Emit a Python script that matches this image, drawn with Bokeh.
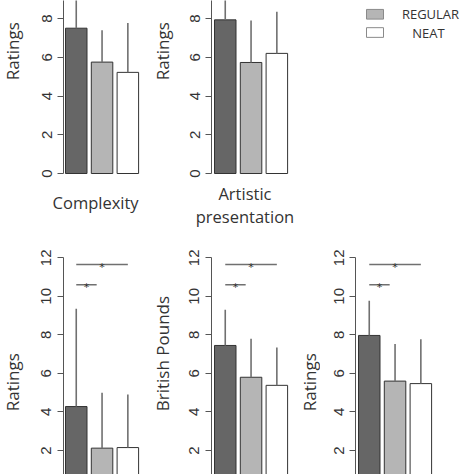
import math
from bokeh.plotting import figure
from bokeh.layouts import column, row
from bokeh.models import Range1d, FixedTicker
from bokeh.core.properties import value
from bokeh.embed import file_html
from bokeh.resources import INLINE

# ---- data ----
bar_x = [0.7, 1.9, 3.1]
legend_labels = ["REGULAR", "NEAT"]
fills = ["#666666", "#b5b5b5", "#ffffff"]

complexity_means = [7.5, 5.75, 5.22]
complexity_tops = [9.7, 7.4, 7.77]

artistic_means = [7.93, 5.73, 6.2]
artistic_tops = [10.0, 7.9, 8.35]

ratings_a_means = [4.28, 2.12, 2.15]
ratings_a_tops = [9.35, 5.0, 4.9]

pounds_means = [7.45, 5.8, 5.38]
pounds_tops = [9.3, 7.8, 7.35]

ratings_b_means = [7.97, 5.6, 5.47]
ratings_b_tops = [9.77, 7.53, 7.77]

sig_short_y = 10.6
sig_long_y = 11.65
y_ticks = [0, 2, 4, 6, 8, 10, 12]

PX_PER_X = 21.5
TEXT = "#333333"
STRIP_W = 24


def label_strip(text, height, start_from_bottom, cx=12):
    s = figure(width=STRIP_W, height=height, x_range=Range1d(0, STRIP_W),
               y_range=Range1d(0, height), output_backend="svg",
               toolbar_location=None, min_border=0,
               x_axis_location=None, y_axis_location=None)
    s.outline_line_color = None
    s.grid.visible = False
    s.text(x=[cx], y=[start_from_bottom], text=[text], angle=math.pi / 2,
           text_align="left", text_baseline="middle",
           text_font=value("Open Sans"), text_font_size="17px",
           text_color=TEXT)
    return s


def panel(means, tops, width, height, axis_left, bar_gap, frame_w,
          y_start, y_end, mt, mb, xlabel=None, xlabel_x=None,
          x_standoff=10, sig=False, tick_standoff=6):
    xs = 0.2 - bar_gap / PX_PER_X
    xe = xs + frame_w / PX_PER_X
    p = figure(width=width, height=height, x_range=Range1d(xs, xe),
               y_range=Range1d(y_start, y_end), output_backend="svg",
               toolbar_location=None, min_border_left=axis_left,
               min_border_right=width - axis_left - frame_w,
               min_border_top=mt, min_border_bottom=mb,
               x_axis_location="below" if xlabel else None)
    p.outline_line_color = None
    p.grid.visible = False
    p.background_fill_color = "white"
    p.border_fill_color = "white"

    p.vbar(x=bar_x, top=means, bottom=0, width=1.0, fill_color=fills,
           line_color="#333333", line_width=1)
    p.segment(x0=bar_x, y0=means, x1=bar_x, y1=tops,
              line_color="#707070", line_width=1.6)

    if sig:
        short_end = bar_x[1] - 0.25
        p.segment(x0=[bar_x[0], bar_x[0]], y0=[sig_short_y, sig_long_y],
                  x1=[short_end, bar_x[2]], y1=[sig_short_y, sig_long_y],
                  line_color="#707070", line_width=1.4)
        p.text(x=[(bar_x[0] + short_end) / 2, (bar_x[0] + bar_x[2]) / 2],
               y=[sig_short_y, sig_long_y], text=["*", "*"],
               text_align="center", text_baseline="middle", y_offset=3,
               text_font=value("DejaVu Sans"), text_font_size="11px",
               text_color="#333333")

    ya = p.yaxis[0]
    ya.bounds = (0, 12)
    ya.ticker = FixedTicker(ticks=y_ticks)
    ya.axis_line_color = "#555555"
    ya.major_tick_line_color = "#555555"
    ya.minor_tick_line_color = None
    ya.major_tick_out = 6
    ya.major_tick_in = 0
    ya.major_label_orientation = "vertical"
    ya.major_label_standoff = tick_standoff
    ya.major_label_text_font = "Liberation Sans"
    ya.major_label_text_font_size = "15px"
    ya.major_label_text_color = TEXT

    if xlabel:
        xa = p.xaxis[0]
        xa.ticker = FixedTicker(ticks=[xlabel_x])
        xa.major_label_overrides = {xlabel_x: xlabel}
        xa.axis_line_color = None
        xa.major_tick_line_color = None
        xa.minor_tick_line_color = None
        xa.major_label_standoff = x_standoff
        xa.major_label_text_font = "Open Sans"
        xa.major_label_text_font_size = "16.5px"
        xa.major_label_text_color = TEXT
        xa.major_label_text_line_height = 1.0
    return p


TOP_H, BOT_H = 235, 239
top_start, top_end = -2 / 19.375, 173 / 19.375
bot_start = (488.5 - 474) / 19.27
bot_end = 12 + (257.3 - 245) / 19.27
top_label_y = TOP_H - 107
bot_label_y = BOT_H - (408 - TOP_H)

f1 = panel(complexity_means, complexity_tops, 150 - STRIP_W, TOP_H, 63 - STRIP_W,
           2, 82, top_start, top_end, 0, TOP_H - 175, xlabel="Complexity",
           xlabel_x=1.6, x_standoff=9)
f2 = panel(artistic_means, artistic_tops, 146 - STRIP_W, TOP_H, 61 - STRIP_W,
           3, 80, top_start, top_end, 0, TOP_H - 175,
           xlabel="Artistic\npresentation", xlabel_x=1.83, x_standoff=0)

leg = figure(width=178, height=TOP_H, x_range=Range1d(0, 178),
             y_range=Range1d(TOP_H, 0), output_backend="svg",
             toolbar_location=None, min_border=0,
             x_axis_location=None, y_axis_location=None)
leg.outline_line_color = None
leg.grid.visible = False
leg_y = [18.5, 43]
leg.rect(x=[78.5, 78.5], y=leg_y, width=17, height=13,
         fill_color=fills[1:], line_color="#8a8a8a", line_width=1)
leg.text(x=[134, 132], y=leg_y, text=legend_labels, text_align="center",
         text_baseline="middle", text_font=value("Open Sans"),
         text_font_size="13px", text_color=TEXT)

f3 = panel(ratings_a_means, ratings_a_tops, 150 - STRIP_W, BOT_H, 63 - STRIP_W,
           2, 82, bot_start, bot_end, 10, 0, sig=True)
f4 = panel(pounds_means, pounds_tops, 146 - STRIP_W, BOT_H, 61 - STRIP_W,
           3, 80, bot_start, bot_end, 10, 0, sig=True)
f5 = panel(ratings_b_means, ratings_b_tops, 178 - STRIP_W, BOT_H, 59 - STRIP_W,
           3, 90, bot_start, bot_end, 10, 0, sig=True, tick_standoff=5)

layout = column(
    row(label_strip("Ratings", TOP_H, top_label_y), f1,
        label_strip("Ratings", TOP_H, top_label_y), f2, leg),
    row(label_strip("Ratings", BOT_H, bot_label_y), f3,
        label_strip("British Pounds", BOT_H, bot_label_y), f4,
        label_strip("Ratings", BOT_H, bot_label_y, cx=13), f5),
)
open("out.html", "w").write(file_html(layout, INLINE))
